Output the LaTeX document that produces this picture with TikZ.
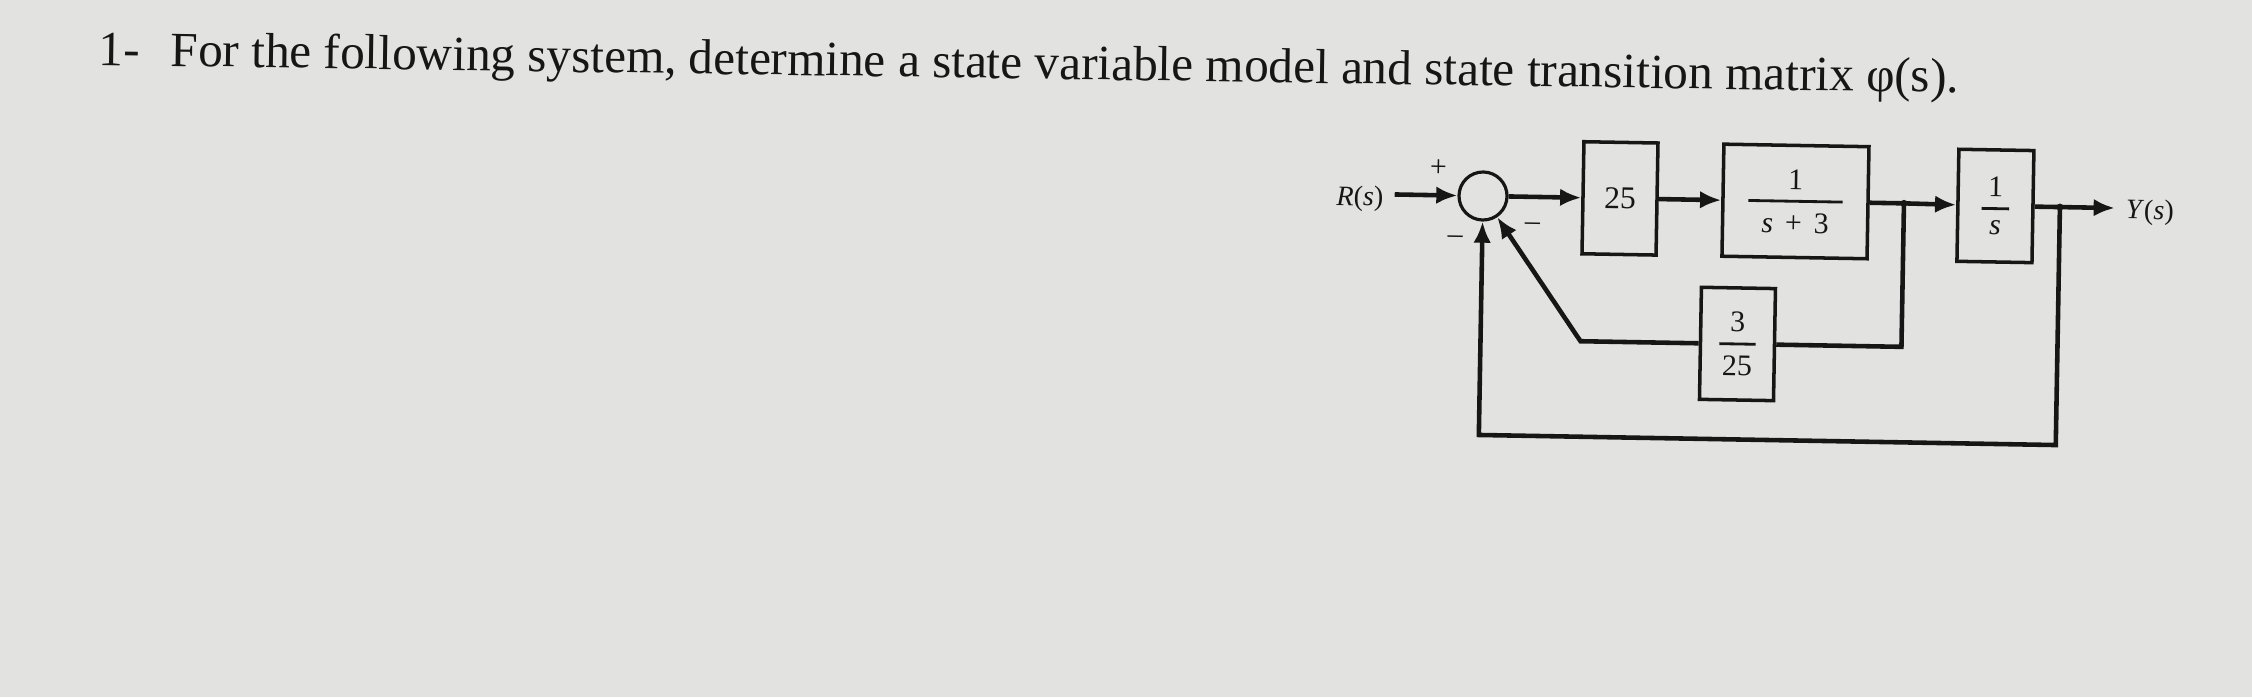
\documentclass[tikz,border=0pt]{standalone}
\usepackage{fontspec}
\setmainfont{Liberation Serif}
\usetikzlibrary{arrows.meta,positioning,calc}
\definecolor{paper}{RGB}{226,226,224}
\definecolor{ink}{RGB}{22,22,22}
\newcommand{\blkfrac}[3]{$\vcenter{\halign{\hskip#3\hfil##\hfil\hskip#3\cr #1\cr\noalign{\kern3pt\hrule height 0.8pt\kern3pt}#2\cr}}$}

\begin{document}
\begin{tikzpicture}[x=0.01cm,y=-0.01cm,
	blk/.style={draw=ink,text=ink,line width=1pt,minimum width=0.74cm,minimum height=1.12cm,inner sep=0pt,font=\fontsize{8.5}{10}\selectfont},
	sumnode/.style={draw=ink,circle,line width=0.9pt,minimum size=0.48cm,inner sep=0pt},
	sig/.style={draw=ink,line width=1.3pt},
	arr/.style={sig,-{Latex[length=6pt,width=5pt]}},
	lbl/.style={text=ink,inner sep=0pt,font=\fontsize{8}{10}\selectfont},
	sgn/.style={text=ink,inner sep=0pt,font=\fontsize{8.5}{10}\selectfont}]
		\path[use as bounding box,fill=paper] (0,0) rectangle (2252,697);
		\node[text=ink,anchor=base west,inner sep=0pt,rotate=-0.85,font=\fontsize{14}{16}\selectfont] (title) at (98,65) {1-\hspace{0.63em}For the following system, determine a state variable model and state transition matrix φ(s).};
		\begin{scope}[rotate around={-1:(1483,196)},transform shape]
		\node[sumnode] (sum) at (1483,196) {};
		\node[lbl] (rlab) at (1360,201) {\textit{R}(\textit{s})};
		\node[blk,font=\fontsize{9}{11}\selectfont] (g25) at (1620,196) {25};
		\node[blk,minimum width=1.45cm] (p1) at (1795.5,196) {\blkfrac{1}{\textit{s}\hspace{0.4em}+\hspace{0.4em}3}{3.8pt}};
		\node[blk,minimum width=0.75cm] (integ) at (1995.5,197) {\blkfrac{1}{\textit{s}}{1.8pt}};
		\node[blk] (fb) at (1740,339.5) {\blkfrac{3}{25}{0.9pt}};
		\node[lbl] (ylab) at (2150,201) {\textit{Y}(\textit{s})};
		\coordinate (b1) at (1904,196);
		\coordinate (b2) at (2060,197);
		\coordinate (fbin) at (1583,339.5);
		\coordinate (fbout) at (1483,435);
		\node[sgn] (pl) at (1438,169) {+};
		\node[sgn] (mi1) at (1456,240) {--};
		\node[sgn] (mi2) at (1533,226) {--};
		\draw[arr] ([xshift=3pt]sum.west-|rlab.east)--(sum);
		\draw[arr] (sum)--(g25);
		\draw[arr] (g25)--(p1);
		\draw[sig] (p1)--(b1);
		\draw[arr] (b1)--(integ);
		\draw[sig] (integ)--(b2);
		\draw[arr] (b2)--([xshift=-3pt]ylab.west|-b2);
		\draw[sig] (b1) |- (fb);
		\draw[arr] (fb)--(fbin)--(sum);
		\draw[arr] (b2) |- (fbout)--(sum);
		\fill[ink] (b1) circle (3.5);
		\fill[ink] (b2) circle (3.5);
		\end{scope}
\end{tikzpicture}
\end{document}
